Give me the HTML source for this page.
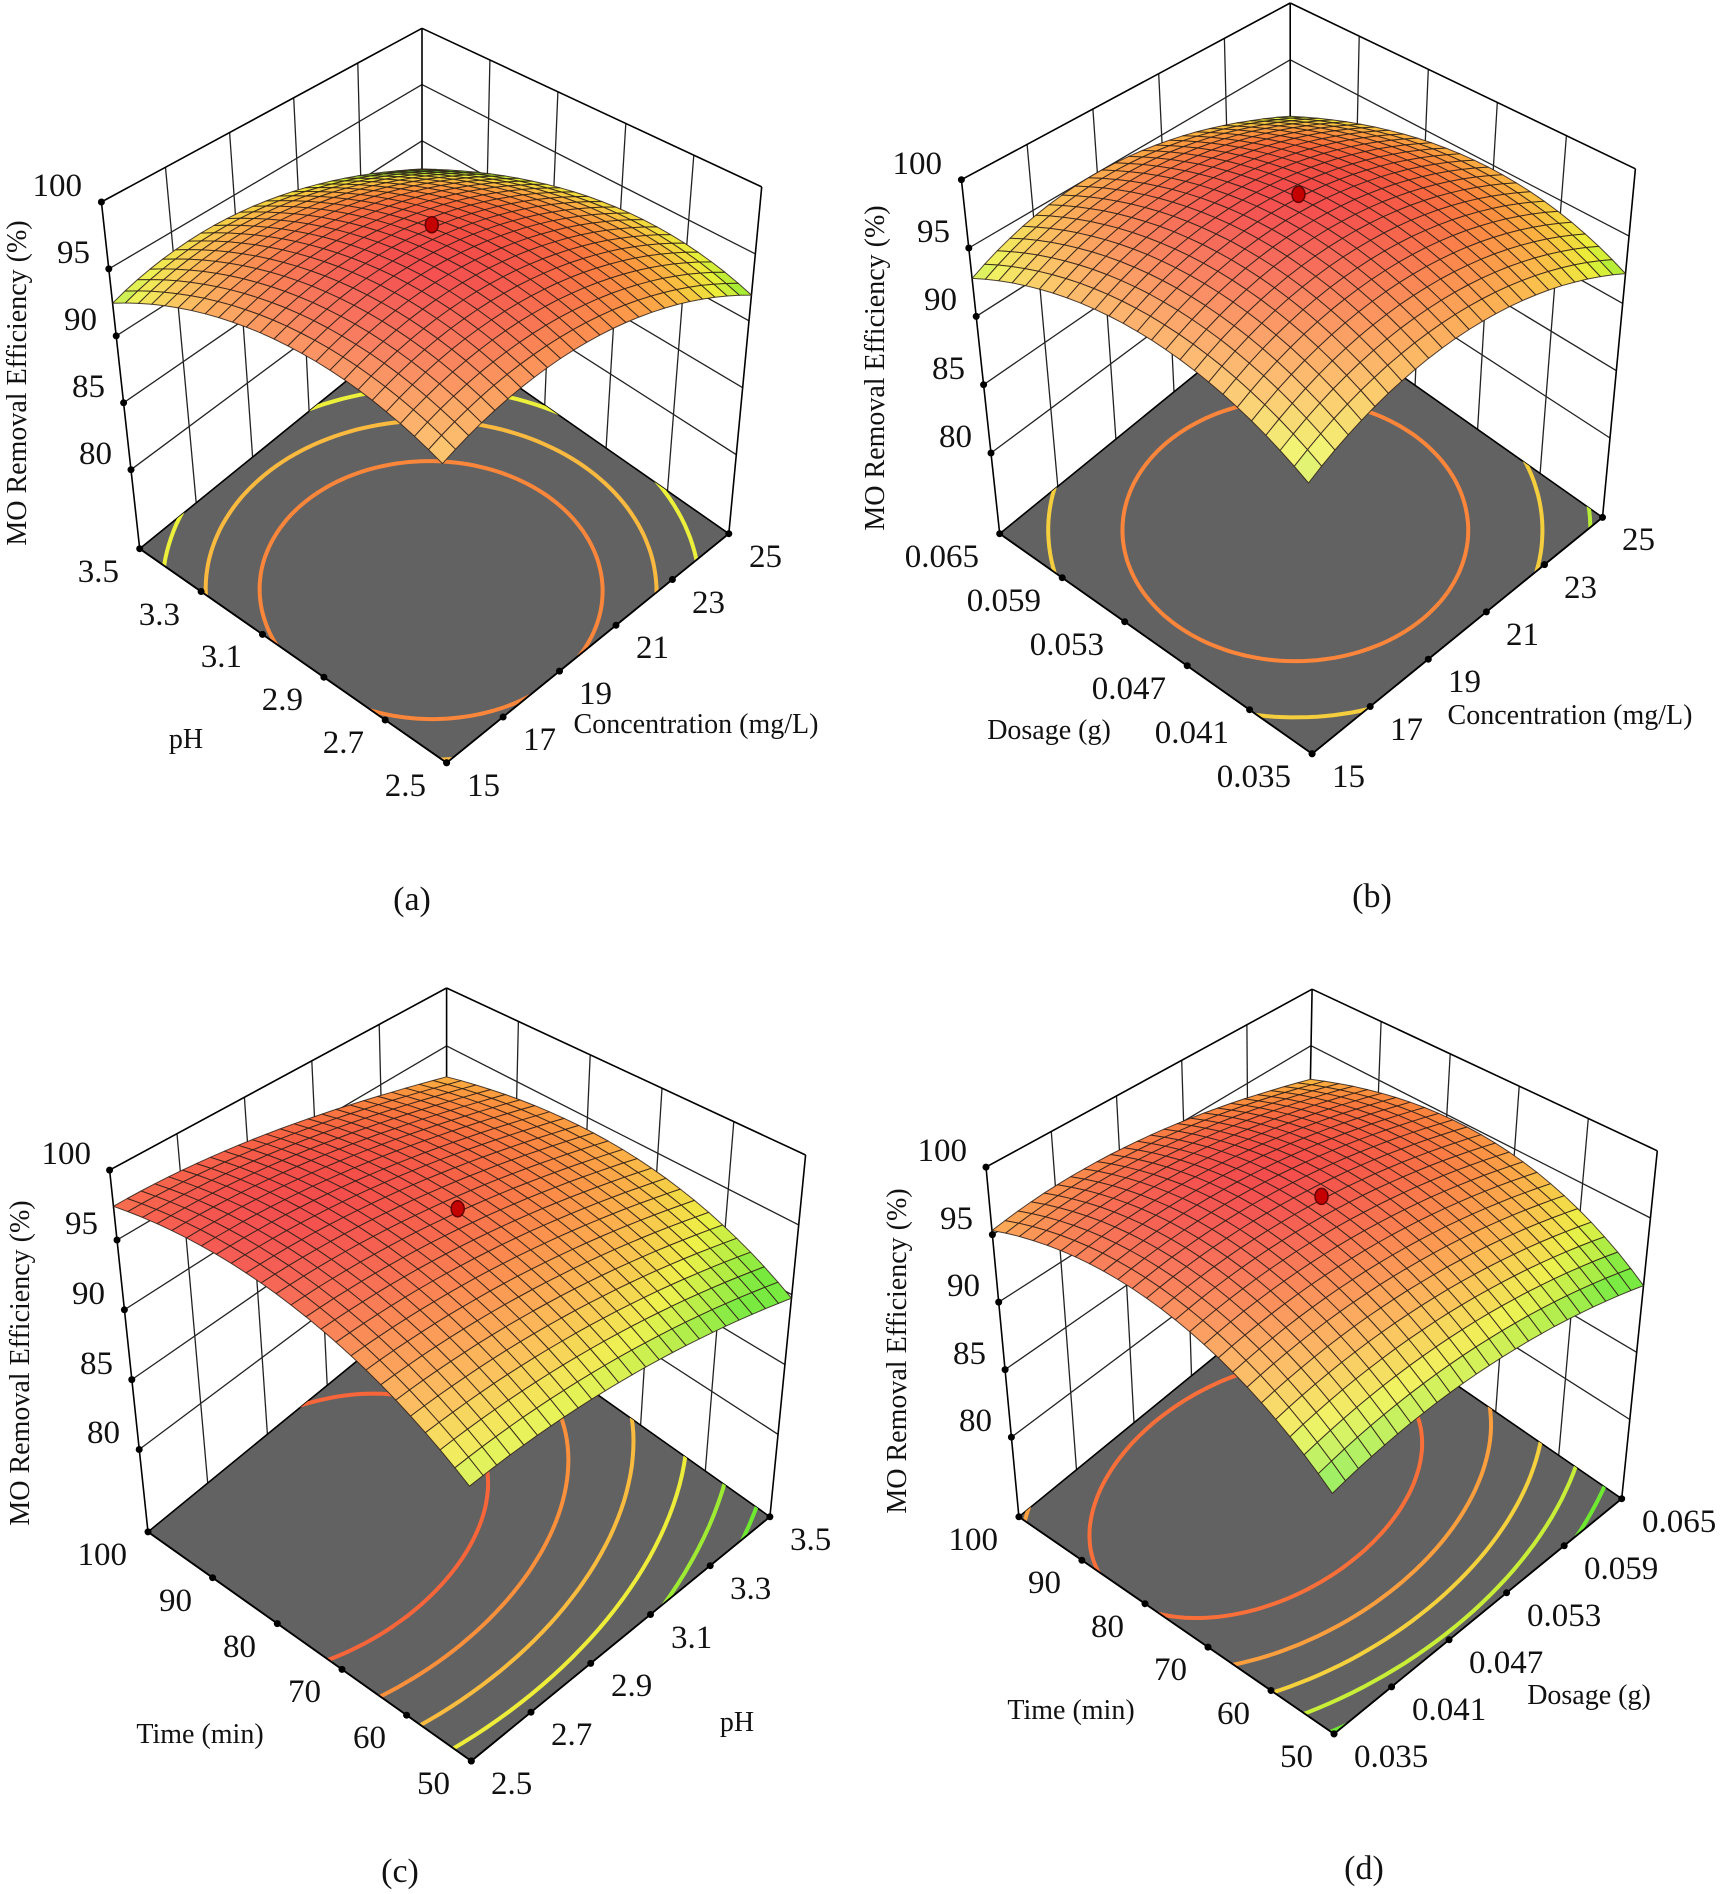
<!DOCTYPE html>
<html><head><meta charset="utf-8">
<style>
html,body{margin:0;padding:0;background:#fff;}
svg{display:block;}
text{font-family:"Liberation Serif",serif;fill:#111;}
.n text,.n{font-size:33px;font-family:"Liberation Serif",serif;}
.t{font-size:28px;font-family:"Liberation Serif",serif;}
.c{font-size:34px;font-family:"Liberation Serif",serif;}
</style></head>
<body>
<svg id="s" width="1720" height="1894" viewBox="0 0 1720 1894" xmlns="http://www.w3.org/2000/svg" font-family="Liberation Serif, serif">
<rect width="1720" height="1894" fill="#fff"/>
<g id="plots"></g>
<g id="labels">
<!-- panel a -->
<g class="n" text-anchor="end">
<text x="119" y="582">3.5</text><text x="180" y="625">3.3</text><text x="242" y="667">3.1</text><text x="303" y="710">2.9</text><text x="364" y="753">2.7</text><text x="426" y="796">2.5</text>
<text x="112" y="464">80</text><text x="105" y="397">85</text><text x="97" y="330">90</text><text x="90" y="263">95</text><text x="82" y="196">100</text>
</g>
<g class="n" text-anchor="start">
<text x="467" y="796">15</text><text x="523" y="750">17</text><text x="579" y="704">19</text><text x="636" y="658">21</text><text x="692" y="613">23</text><text x="749" y="567">25</text>
</g>
<text class="t" x="186" y="748" text-anchor="middle">pH</text>
<text class="t" x="696" y="733" text-anchor="middle">Concentration (mg/L)</text>
<text class="t" transform="translate(26,383) rotate(-90)" text-anchor="middle">MO Removal Efficiency (%)</text>
<text class="c" x="412" y="910" text-anchor="middle">(a)</text>
<!-- panel b -->
<g class="n" text-anchor="end">
<text x="979" y="567">0.065</text><text x="1041" y="611">0.059</text><text x="1104" y="655">0.053</text><text x="1166" y="699">0.047</text><text x="1229" y="743">0.041</text><text x="1291" y="787">0.035</text>
<text x="972" y="447">80</text><text x="965" y="379">85</text><text x="957" y="310">90</text><text x="950" y="242">95</text><text x="942" y="174">100</text>
</g>
<g class="n" text-anchor="start">
<text x="1332" y="787">15</text><text x="1390" y="740">17</text><text x="1448" y="692">19</text><text x="1506" y="645">21</text><text x="1564" y="598">23</text><text x="1622" y="550">25</text>
</g>
<text class="t" x="1049" y="739" text-anchor="middle">Dosage (g)</text>
<text class="t" x="1570" y="724" text-anchor="middle">Concentration (mg/L)</text>
<text class="t" transform="translate(884,368) rotate(-90)" text-anchor="middle">MO Removal Efficiency (%)</text>
<text class="c" x="1372" y="907" text-anchor="middle">(b)</text>
<!-- panel c -->
<g class="n" text-anchor="end">
<text x="127" y="1565">100</text><text x="192" y="1611">90</text><text x="256" y="1657">80</text><text x="321" y="1702">70</text><text x="386" y="1748">60</text><text x="450" y="1794">50</text>
<text x="120" y="1443">80</text><text x="113" y="1374">85</text><text x="105" y="1304">90</text><text x="98" y="1234">95</text><text x="91" y="1164">100</text>
</g>
<g class="n" text-anchor="start">
<text x="491" y="1794">2.5</text><text x="551" y="1745">2.7</text><text x="611" y="1696">2.9</text><text x="671" y="1648">3.1</text><text x="730" y="1599">3.3</text><text x="790" y="1550">3.5</text>
</g>
<text class="t" x="200" y="1743" text-anchor="middle">Time (min)</text>
<text class="t" x="737" y="1731" text-anchor="middle">pH</text>
<text class="t" transform="translate(29,1363) rotate(-90)" text-anchor="middle">MO Removal Efficiency (%)</text>
<text class="c" x="400" y="1882" text-anchor="middle">(c)</text>
<!-- panel d -->
<g class="n" text-anchor="end">
<text x="998" y="1550">100</text><text x="1061" y="1593">90</text><text x="1124" y="1637">80</text><text x="1187" y="1680">70</text><text x="1250" y="1724">60</text><text x="1313" y="1767">50</text>
<text x="992" y="1431">80</text><text x="986" y="1364">85</text><text x="980" y="1296">90</text><text x="973" y="1229">95</text><text x="967" y="1161">100</text>
</g>
<g class="n" text-anchor="start">
<text x="1354" y="1767">0.035</text><text x="1412" y="1720">0.041</text><text x="1469" y="1673">0.047</text><text x="1527" y="1626">0.053</text><text x="1584" y="1579">0.059</text><text x="1642" y="1532">0.065</text>
</g>
<text class="t" x="1071" y="1719" text-anchor="middle">Time (min)</text>
<text class="t" x="1589" y="1704" text-anchor="middle">Dosage (g)</text>
<text class="t" transform="translate(906,1351) rotate(-90)" text-anchor="middle">MO Removal Efficiency (%)</text>
<text class="c" x="1364" y="1879" text-anchor="middle">(d)</text>
</g>
</svg>
<script>
(function(){
var SX=0.548, SY=0.603, FTF=0.92, BTF=0.88;
var panels=[
 {ox:0,oy:0,L:[255,910],F:[815,1265],R:[1330,885],LT:[185,335],RT:[1390,310],BT:[770,47],
  a0:0.62,b0:0.6,zmax:99,ka:13,kb:13,vlo:91.5,levels:[96.8,95.2,93.6]},
 {ox:860,oy:0,L:[255,885],F:[825,1250],R:[1355,858],LT:[185,298],RT:[1415,280],BT:[785,5],
  a0:0.52,b0:0.5,zmax:99.5,ka:14,kb:14,vlo:91.5,levels:[97.2,94.8,92.8]},
 {ox:0,oy:947,L:[270,970],F:[860,1350],R:[1405,945],LT:[200,370],RT:[1470,345],BT:[815,68],
  a0:0.76,b0:0.27,zmax:98.5,ka:5,kb:11,vlo:91,levels:[97.3,96,94.6,93.2,91.8,90.4]},
 {ox:860,oy:947,L:[290,945],F:[865,1305],R:[1390,915],LT:[230,365],RT:[1455,338],BT:[825,70],
  a0:0.56,b0:0.35,zmax:98.5,ka:7,kb:15,vlo:91,levels:[97,95.5,94,92.5,91,89.6]}
];
var stops=[[0,[110,232,48]],[0.28,[236,240,58]],[0.52,[252,178,64]],[0.76,[250,122,58]],[1,[242,58,58]]];
function cmap(t,mixw){
 t=Math.max(0,Math.min(1,t));
 for(var i=1;i<stops.length;i++){ if(t<=stops[i][0]){
  var s0=stops[i-1],s1=stops[i],u=(t-s0[0])/(s1[0]-s0[0]);
  var c=[0,1,2].map(function(k){var v=s0[1][k]+(s1[1][k]-s0[1][k])*u; return Math.round(v+(255-v)*(mixw||0));});
  return 'rgb('+c.join(',')+')';}}
 return 'rgb(242,58,58)';
}
var out='';
panels.forEach(function(p){
 var B=[p.L[0]+p.R[0]-p.F[0],p.L[1]+p.R[1]-p.F[1]];
 var FT0=[p.LT[0]+p.RT[0]-p.BT[0],p.LT[1]+p.RT[1]-p.BT[1]];
 var FT=[p.F[0]+FTF*(FT0[0]-p.F[0]),p.F[1]+FTF*(FT0[1]-p.F[1])];
 var BT2=[B[0]+BTF*(p.BT[0]-B[0]),B[1]+BTF*(p.BT[1]-B[1])];
 function bil(P0,P1,P2,P3,a,b){return [(1-a)*(1-b)*P0[0]+a*(1-b)*P1[0]+(1-a)*b*P2[0]+a*b*P3[0],(1-a)*(1-b)*P0[1]+a*(1-b)*P1[1]+(1-a)*b*P2[1]+a*b*P3[1]];}
 function Pg(a,b,w,bt){var f=bil(B,p.L,p.R,p.F,a,b),t=bil(bt,p.LT,p.RT,FT,a,b);
  var x=f[0]+(t[0]-f[0])*w,y=f[1]+(t[1]-f[1])*w; return [p.ox+SX*x,p.oy+SY*y];}
 function P(a,b,w){return Pg(a,b,w,p.BT);}
 function Ps(a,b,w){return Pg(a,b,w,BT2);}
 function W(z){return (z-74.1)/25.9;}
 function pt(q){return q[0].toFixed(1)+','+q[1].toFixed(1);}
 function line(q1,q2,sw,col){return '<line x1="'+q1[0].toFixed(1)+'" y1="'+q1[1].toFixed(1)+'" x2="'+q2[0].toFixed(1)+'" y2="'+q2[1].toFixed(1)+'" stroke="'+(col||'#000')+'" stroke-width="'+sw+'"/>';}
 var zt=[80,85,90,95];
 for(var k=1;k<5;k++){ out+=line(P(k/5,0,0),P(k/5,0,1),1.3,'#222'); out+=line(P(0,k/5,0),P(0,k/5,1),1.3,'#222'); }
 zt.forEach(function(z){var w=W(z); out+=line(P(0,0,w),P(1,0,w),1.3,'#222'); out+=line(P(0,0,w),P(0,1,w),1.3,'#222');});
 out+=line(P(1,0,0),P(1,0,1),1.6); out+=line(P(1,0,1),P(0,0,1),1.6); out+=line(P(0,0,1),P(0,0,0),1.6);
 out+=line(P(0,0,1),P(0,1,1),1.6); out+=line(P(0,1,1),P(0,1,0),1.6);
 var fl=[P(0,0,0),P(1,0,0),P(1,1,0),P(0,1,0)];
 var cid='cl'+p.ox+'_'+p.oy;
 out+='<clipPath id="'+cid+'"><polygon points="'+fl.map(pt).join(' ')+'"/></clipPath>';
 out+='<polygon points="'+fl.map(pt).join(' ')+'" fill="#626262" stroke="#000" stroke-width="1.6"/>';
 p.levels.forEach(function(L){
  var D=p.zmax-L; var ra=Math.sqrt(D/p.ka), rb=Math.sqrt(D/p.kb); var pts=[];
  for(var i=0;i<=180;i++){var th=i/180*2*Math.PI; pts.push(pt(P(p.a0+ra*Math.cos(th),p.b0+rb*Math.sin(th),0)));}
  out+='<polyline clip-path="url(#'+cid+')" points="'+pts.join(' ')+'" fill="none" stroke="'+cmap((L-p.vlo)/(p.zmax-p.vlo),0)+'" stroke-width="4"/>';
 });
 var N=24;
 function val(a,b){return p.zmax-p.ka*(a-p.a0)*(a-p.a0)-p.kb*(b-p.b0)*(b-p.b0);}
 var cells=[];
 for(var i=0;i<N;i++)for(var j=0;j<N;j++)cells.push([i,j]);
 cells.sort(function(x,y){return (x[0]+x[1])-(y[0]+y[1]);});
 var sg='';
 cells.forEach(function(c){
  var a1=c[0]/N,a2=(c[0]+1)/N,b1=c[1]/N,b2=(c[1]+1)/N;
  var q=[Ps(a1,b1,W(val(a1,b1))),Ps(a2,b1,W(val(a2,b1))),Ps(a2,b2,W(val(a2,b2))),Ps(a1,b2,W(val(a1,b2)))];
  var v=val((a1+a2)/2,(b1+b2)/2);
  var ga=-2*p.ka*((a1+a2)/2-p.a0), gb=-2*p.kb*((b1+b2)/2-p.b0);
  var lit=Math.max(0,Math.min(0.3,0.1+0.02*(-(ga)*0.6-(gb)*0.2)));
  sg+='<polygon points="'+q.map(pt).join(' ')+'" fill="'+cmap((v-p.vlo)/(p.zmax-p.vlo),lit)+'" stroke="#2e2018" stroke-opacity="0.85" stroke-width="1" stroke-linejoin="round"/>';
 });
 out+=sg;
 var d=Ps(0.5,0.5,W(val(0.5,0.5))+0.01);
 out+='<ellipse cx="'+d[0].toFixed(1)+'" cy="'+d[1].toFixed(1)+'" rx="6.5" ry="8" fill="#c40000" stroke="#600" stroke-width="1.5"/>';
 out+=line(P(1,0,0),P(1,1,0),1.8); out+=line(P(1,1,0),P(0,1,0),1.8);
 for(var k=0;k<=5;k++){var t1=P(1,k/5,0),t2=P(1-k/5,1,0);
  out+='<circle cx="'+t1[0].toFixed(1)+'" cy="'+t1[1].toFixed(1)+'" r="3.5" fill="#000"/>';
  out+='<circle cx="'+t2[0].toFixed(1)+'" cy="'+t2[1].toFixed(1)+'" r="3.5" fill="#000"/>';}
 [80,85,90,95,100].forEach(function(z){var t=P(1,0,W(z)); out+='<circle cx="'+t[0].toFixed(1)+'" cy="'+t[1].toFixed(1)+'" r="3.5" fill="#000"/>';});
});
document.getElementById('plots').innerHTML=out;
})();
</script>
</body></html>
